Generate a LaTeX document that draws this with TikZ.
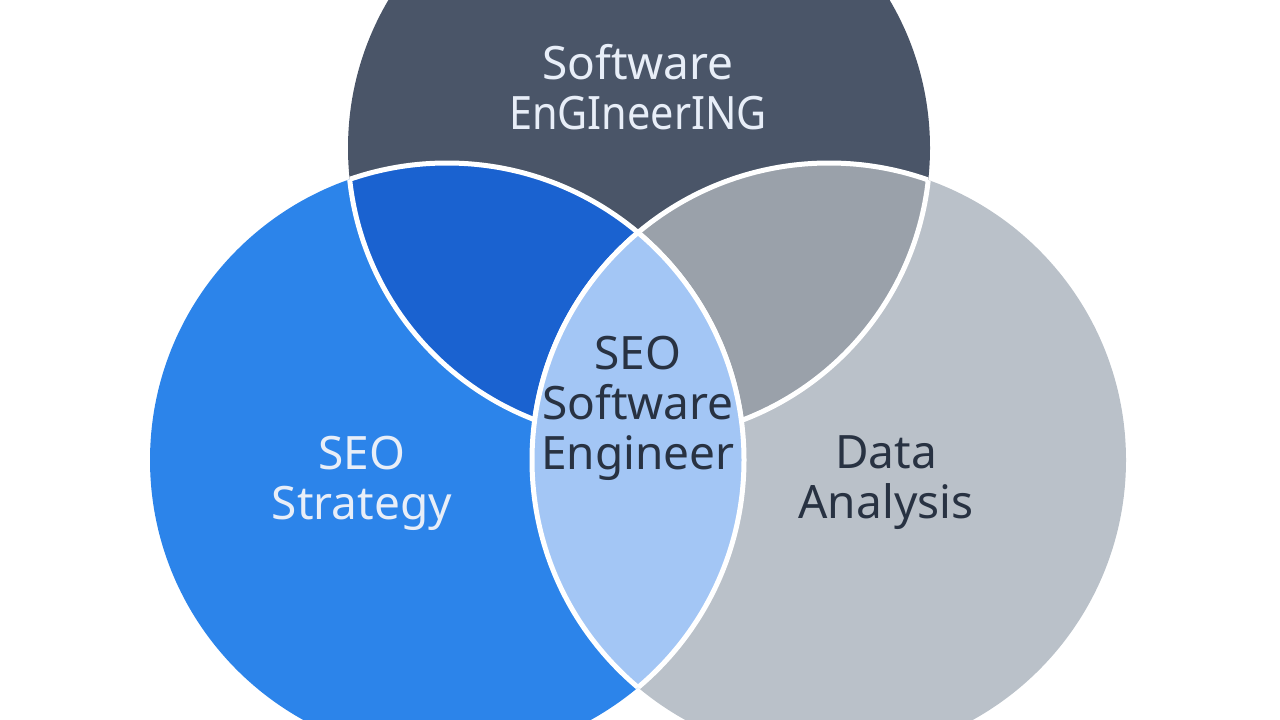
\documentclass[tikz,border=0pt]{standalone}
\usepackage{graphicx}
\usepackage{fontspec}
\setmainfont{Noto Sans}
\definecolor{topc}{RGB}{74,85,104}
\definecolor{leftc}{RGB}{44,132,234}
\definecolor{tlc}{RGB}{26,98,208}
\definecolor{rightc}{RGB}{186,193,201}
\definecolor{trc}{RGB}{154,161,170}
\definecolor{lensc}{RGB}{163,198,245}
\definecolor{lighttxt}{RGB}{232,238,248}
\definecolor{darktxt}{RGB}{40,50,66}
\begin{document}
\begin{tikzpicture}[x=1pt,y=-1pt,
  lbl/.style={align=center, font=\fontsize{46}{50}\selectfont, inner sep=0pt},
  sep/.style={draw=white, line width=5pt}]
\useasboundingbox (0,0) rectangle (1280,720);
\clip (0,0) rectangle (1280,720);
\coordinate (T) at (639,148);
\coordinate (L) at (447,460);
\coordinate (R) at (829,460);
% base circles
\fill[topc] (T) circle[radius=291pt];
\fill[leftc] (L) circle[radius=297pt];
\fill[rightc] (R) circle[radius=297pt];
% pairwise overlaps with top
\begin{scope}
  \clip (T) circle[radius=291pt];
  \fill[tlc] (L) circle[radius=297pt];
  \fill[trc] (R) circle[radius=297pt];
\end{scope}
% white separators
\begin{scope}
  \clip (T) circle[radius=291pt];
  \draw[sep] (L) circle[radius=297pt];
  \draw[sep] (R) circle[radius=297pt];
\end{scope}
\begin{scope}
  \clip (L) circle[radius=297pt];
  \draw[sep] (T) circle[radius=291pt];
\end{scope}
\begin{scope}
  \clip (R) circle[radius=297pt];
  \draw[sep] (T) circle[radius=291pt];
\end{scope}
% central lens
\begin{scope}
  \clip (L) circle[radius=297pt];
  \fill[lensc] (R) circle[radius=297pt];
  \draw[sep] (R) circle[radius=297pt];
\end{scope}
\begin{scope}
  \clip (R) circle[radius=297pt];
  \draw[sep] (L) circle[radius=297pt];
\end{scope}
% labels
\node[lbl, text=lighttxt] (swe) at (638,87) {Software\\\scalebox{0.9}[1]{EnGIneerING}};
\node[lbl, text=lighttxt] (seo) at (362,483) {SEO\\Strategy};
\node[lbl, text=darktxt] (data) at (886,483) {Data\\Analysis};
\node[lbl, text=darktxt] (mid) at (638,408) {SEO\\Software\\Engineer};
\end{tikzpicture}
\end{document}
